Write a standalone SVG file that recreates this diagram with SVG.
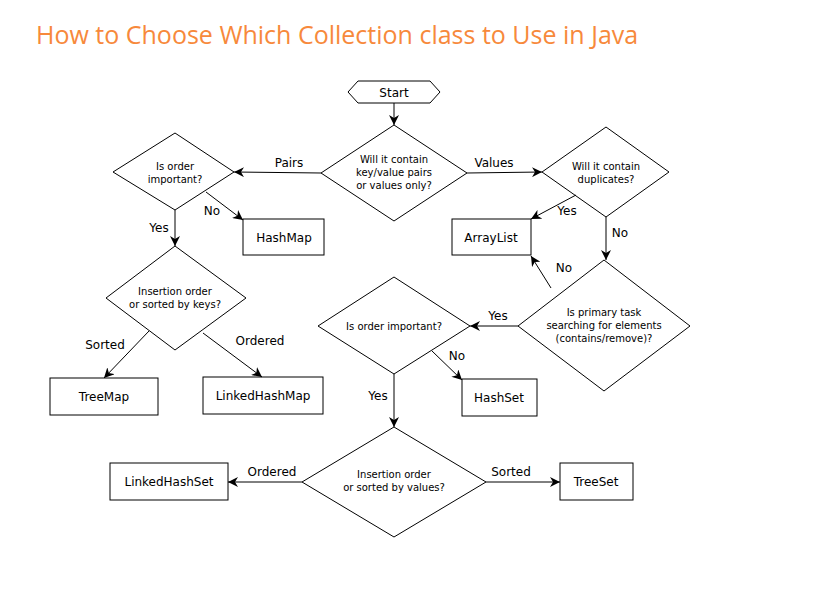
<svg xmlns="http://www.w3.org/2000/svg" width="816" height="601" viewBox="0 0 816 601">
<style>
.s{fill:#fff;stroke:#000;stroke-width:1}
.t{font-family:"DejaVu Sans",sans-serif;font-size:10px;text-anchor:middle;fill:#000}
.b{font-family:"DejaVu Sans",sans-serif;font-size:12px;text-anchor:middle;fill:#000}
.l{font-family:"DejaVu Sans",sans-serif;font-size:12px;text-anchor:middle;fill:#000}
.c line{stroke:#000;stroke-width:1;marker-end:url(#a)}
</style>
<defs><marker id="a" viewBox="0 0 10 10" refX="10" refY="5" markerWidth="10" markerHeight="10" markerUnits="userSpaceOnUse" orient="auto"><path d="M0,0 L10,5 L0,10 L3,5 Z" fill="#000"/></marker></defs>
<rect width="816" height="601" fill="#fff"/>
<text x="36" y="44" font-family="Open Sans,sans-serif" font-size="25" fill="#f7893b">How to Choose Which Collection class to Use in Java</text>
<g id="start"><polygon class="s" points="348,92 358,81 430,81 440,92 430,103 358,103"/><text class="b" x="394" y="97">Start</text></g>
<g id="d1"><polygon class="s" points="394,125 467,173 394,221 321,173"/><text class="t" x="394" y="163">Will it contain</text><text class="t" x="394" y="176">key/value pairs</text><text class="t" x="394" y="189">or values only?</text></g>
<g id="d2"><polygon class="s" points="175,133 234,172 175,210 113,172"/><text class="t" x="175" y="170">Is order</text><text class="t" x="175" y="183">important?</text></g>
<g id="d3"><polygon class="s" points="606,127 669,172 606,217 542,172"/><text class="t" x="606" y="170">Will it contain</text><text class="t" x="606" y="183">duplicates?</text></g>
<g id="hashmap"><rect class="s" x="243" y="219" width="81" height="36"/><text class="b" x="284" y="242">HashMap</text></g>
<g id="arraylist"><rect class="s" x="452" y="219" width="79" height="36"/><text class="b" x="491" y="242">ArrayList</text></g>
<g id="d4"><polygon class="s" points="175,246 246,298 175,350 106,298"/><text class="t" x="175" y="295">Insertion order</text><text class="t" x="175" y="308">or sorted by keys?</text></g>
<g id="treemap"><rect class="s" x="50" y="378" width="108" height="37"/><text class="b" x="104" y="401">TreeMap</text></g>
<g id="lhm"><rect class="s" x="203" y="377" width="120" height="37"/><text class="b" x="263" y="400">LinkedHashMap</text></g>
<g id="d5"><polygon class="s" points="394,277 470,326 394,374 318,326"/><text class="t" x="394" y="330">Is order important?</text></g>
<g id="hashset"><rect class="s" x="462" y="379" width="75" height="37"/><text class="b" x="499" y="402">HashSet</text></g>
<g id="d6"><polygon class="s" points="604,260 690,326 604,391 518,326"/><text class="t" x="604" y="316">Is primary task</text><text class="t" x="604" y="329">searching for elements</text><text class="t" x="604" y="342">(contains/remove)?</text></g>
<g id="d7"><polygon class="s" points="394,427 486,482 394,537 302,482"/><text class="t" x="394" y="478">Insertion order</text><text class="t" x="394" y="491">or sorted by values?</text></g>
<g id="lhs"><rect class="s" x="110" y="463" width="118" height="37"/><text class="b" x="169" y="486">LinkedHashSet</text></g>
<g id="treeset"><rect class="s" x="560" y="463" width="73" height="37"/><text class="b" x="596" y="486">TreeSet</text></g>
<g class="c" id="connectors">
<line x1="394" y1="103" x2="394" y2="125"/>
<line x1="321" y1="173" x2="234" y2="172"/>
<line x1="467" y1="173" x2="542" y2="172"/>
<line x1="206" y1="192" x2="243" y2="220"/>
<line x1="175" y1="210" x2="175" y2="246"/>
<line x1="576" y1="195" x2="531" y2="219"/>
<line x1="606" y1="217" x2="606" y2="260"/>
<line x1="551" y1="288" x2="531" y2="256"/>
<line x1="518" y1="326" x2="470" y2="326"/>
<line x1="432" y1="351" x2="462" y2="380"/>
<line x1="394" y1="374" x2="394" y2="427"/>
<line x1="149" y1="331" x2="104" y2="378"/>
<line x1="203" y1="333" x2="262" y2="377"/>
<line x1="302" y1="482" x2="228" y2="482"/>
<line x1="486" y1="482" x2="560" y2="482"/>
</g>
<g id="labels">
<text class="l" x="289" y="167">Pairs</text>
<text class="l" x="494" y="167">Values</text>
<text class="l" x="212" y="215">No</text>
<text class="l" x="159" y="232">Yes</text>
<text class="l" x="567" y="215">Yes</text>
<text class="l" x="620" y="237">No</text>
<text class="l" x="564" y="272">No</text>
<text class="l" x="498" y="320">Yes</text>
<text class="l" x="457" y="360">No</text>
<text class="l" x="378" y="400">Yes</text>
<text class="l" x="105" y="349">Sorted</text>
<text class="l" x="260" y="345">Ordered</text>
<text class="l" x="272" y="476">Ordered</text>
<text class="l" x="511" y="476">Sorted</text>
</g>
</svg>
